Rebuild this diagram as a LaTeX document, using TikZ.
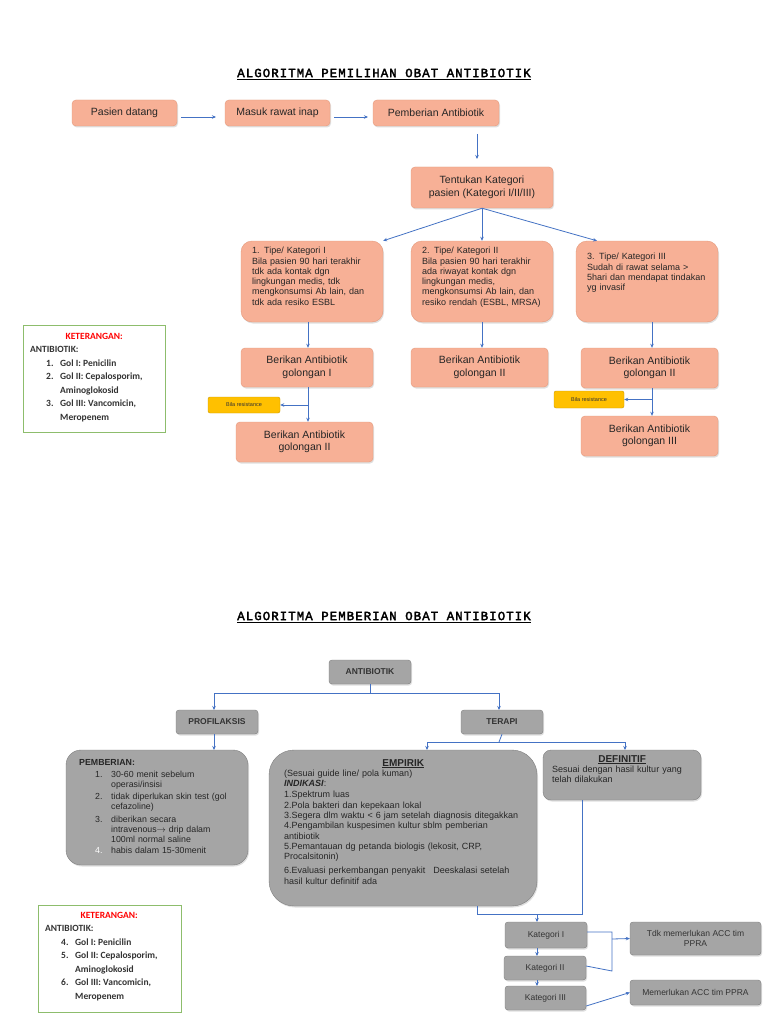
\documentclass[tikz,border=0pt]{standalone}
\usepackage{fontspec}
\setmainfont{Liberation Sans}
\newfontfamily\calfont{Carlito}
\newfontfamily\titlefont[LetterSpace=8,FakeBold=2.5]{Liberation Mono}
\usetikzlibrary{arrows.meta,shadows}
\definecolor{ofill}{HTML}{F7B096}
\definecolor{oline}{HTML}{E59A7C}
\definecolor{gfill}{HTML}{A5A5A5}
\definecolor{gline}{HTML}{7F7F7F}
\definecolor{arr}{HTML}{4472C4}
\definecolor{ylw}{HTML}{FFC000}
\definecolor{kgreen}{HTML}{70AD47}
\begin{document}
\begin{tikzpicture}[x=1pt,y=-1pt,
  shd/.style={drop shadow={opacity=0.25,shadow xshift=1pt,shadow yshift=-1.5pt}},
  obox/.style={shd,draw=oline,fill=ofill,rounded corners=4pt,inner sep=1pt,align=center,font=\fontsize{10.5}{12.5}\selectfont,text=black!85},
  gbox/.style={shd,draw=gline,fill=gfill,rounded corners=3pt,inner sep=1pt,align=center,font=\fontsize{8.5}{10}\selectfont\bfseries,text=black!80},
  ybox/.style={draw=ylw!80!black,fill=ylw,rounded corners=2pt,inner sep=0pt,font=\fontsize{5.5}{6}\selectfont,text=black!80},
  kbox/.style={draw=kgreen!80,line width=0.8pt,fill=white,inner sep=0pt},
  txt/.style={inner sep=0pt,anchor=north west,align=left,text=black!85},
  ttl/.style={inner sep=0pt,font=\titlefont\fontsize{12.5}{14}\selectfont},
  ar/.style={draw=arr,line width=0.8pt,-{Stealth[length=4pt,width=3.5pt]}},
  ln/.style={draw=arr,line width=0.8pt}]
\useasboundingbox (0,0) rectangle (768,1024);
\fill[white] (0,0) rectangle (768,1024);

% ---------- Section 1 ----------
\node[ttl] (t1) at (384,73) {ALGORITMA PEMILIHAN OBAT ANTIBIOTIK};
\draw[line width=0.9pt] ([yshift=-2.5pt]t1.south west) -- ([yshift=-2.5pt]t1.south east);

\node[obox,minimum width=105,minimum height=26] (p1) at (124.5,113) {Pasien datang};
\node[obox,minimum width=105,minimum height=26] (p2) at (277.5,113) {Masuk rawat inap};
\node[obox,minimum width=126,minimum height=26] (p3) at (436,113) {Pemberian Antibiotik};
\coordinate (a1s) at (181,117); \coordinate (a1e) at (216,117);
\coordinate (a2s) at (334,117); \coordinate (a2e) at (368,117);
\draw[ar] (a1s) -- (a1e);
\draw[ar] (a2s) -- (a2e);
\coordinate (a3s) at (477,134); \coordinate (a3e) at (477,159);
\draw[ar] (a3s) -- (a3e);

\node[obox,minimum width=142,minimum height=41] (tk) at (482,187.5) {Tentukan Kategori\\pasien (Kategori I/II/III)};

\node[obox,rounded corners=11pt,minimum width=142,minimum height=81] (c1) at (312,281.5) {};
\node[obox,rounded corners=11pt,minimum width=142,minimum height=81] (c2) at (482,281.5) {};
\node[obox,rounded corners=11pt,minimum width=142,minimum height=81] (c3) at (647,281.5) {};
\node[txt,text width=135,font=\fontsize{9}{10.3}\selectfont] (c1t) at (252,247) {1. Tipe/ Kategori I\\Bila pasien 90 hari terakhir\\tdk ada kontak dgn\\lingkungan medis, tdk\\mengkonsumsi Ab lain, dan\\tdk ada resiko ESBL};
\node[txt,text width=135,font=\fontsize{9}{10.3}\selectfont] (c2t) at (422,247) {2. Tipe/ Kategori II\\Bila pasien 90 hari terakhir\\ada riwayat kontak dgn\\lingkungan medis,\\mengkonsumsi Ab lain, dan\\resiko rendah (ESBL, MRSA)};
\node[txt,text width=135,font=\fontsize{9}{10.3}\selectfont] (c3t) at (587,253) {3. Tipe/ Kategori III\\Sudah di rawat selama >\\5hari dan mendapat tindakan\\yg invasif};

\draw[ar] (tk.south) -- (c1.north east);
\draw[ar] (tk.south) -- (c2.north);
\draw[ar] (tk.south) -- ([xshift=-50]c3.north);

\node[obox,minimum width=132,minimum height=39] (b1) at (307,367.5) {Berikan Antibiotik\\golongan I};
\node[obox,minimum width=137,minimum height=39] (b2) at (479.5,367.5) {Berikan Antibiotik\\golongan II};
\node[obox,minimum width=137,minimum height=40] (b3) at (649.5,368) {Berikan Antibiotik\\golongan II};
\node[obox,minimum width=137,minimum height=40] (b4) at (304.5,442) {Berikan Antibiotik\\golongan II};
\node[obox,minimum width=137,minimum height=40] (b5) at (649.5,436) {Berikan Antibiotik\\golongan III};

\draw[ar] ([xshift=-4]c1.south) -- ([xshift=1]b1.north);
\draw[ar] (c2.south) -- ([xshift=2.5]b2.north);
\draw[ar] ([xshift=5]c3.south) -- ([xshift=2.5]b3.north);

\node[ybox,minimum width=72,minimum height=16] (y1) at (244,405) {Bila resistance};
\node[ybox,minimum width=70,minimum height=17] (y2) at (589,399.5) {Bila resistance};
\coordinate (j1) at (308,405);
\coordinate (j2) at (652,399.5);
\draw[ar] ([xshift=1]b1.south) -- ([xshift=3.5]b4.north);
\draw[ar] (j1) -- (y1.east);
\draw[ar] ([xshift=2.5]b3.south) -- ([xshift=2.5]b5.north);
\draw[ar] (j2) -- (y2.east);

\node[kbox,minimum width=142,minimum height=107] (k1) at (94,378.5) {};
\node[txt,font=\calfont\bfseries\fontsize{9.5}{13.5}\selectfont,text=black!80] (k1t) at (30,333) {%
\makebox[128pt]{\textcolor{red}{KETERANGAN:}}\\
ANTIBIOTIK:\\
\hspace*{16pt}\makebox[10pt][l]{1.}\hspace{4pt}Gol I: Penicilin\\
\hspace*{16pt}\makebox[10pt][l]{2.}\hspace{4pt}Gol II: Cepalosporim,\\
\hspace*{30pt}Aminoglokosid\\
\hspace*{16pt}\makebox[10pt][l]{3.}\hspace{4pt}Gol III: Vancomicin,\\
\hspace*{30pt}Meropenem};

% ---------- Section 2 ----------
\node[ttl] (t2) at (384,616) {ALGORITMA PEMBERIAN OBAT ANTIBIOTIK};
\draw[line width=0.9pt] ([yshift=-2.5pt]t2.south west) -- ([yshift=-2.5pt]t2.south east);

\node[gbox,minimum width=82,minimum height=24] (ab) at (370,672) {ANTIBIOTIK};
\node[gbox,minimum width=82,minimum height=24] (pf) at (217,722) {PROFILAKSIS};
\node[gbox,minimum width=82,minimum height=24] (tr) at (502,722) {TERAPI};
\coordinate (h1) at (370,693);
\coordinate (h1l) at (214,693);
\coordinate (h1r) at (499,693);
\draw[ln] (ab.south) -- (h1);
\draw[ar] (h1) -- (h1l) -- (214,710);
\draw[ar] (h1) -- (h1r) -- (499,710);

\node[gbox,rounded corners=15pt,minimum width=182,minimum height=115] (pb) at (157,807.5) {};
\draw[ar] (214,734) -- (214,750);
\node[txt,font=\fontsize{8.8}{10.3}\selectfont,text width=170] (pbt) at (79,759) {%
\textbf{PEMBERIAN:}\\[1.5pt]
\hspace*{16pt}\makebox[16pt][l]{1.}\parbox[t]{130pt}{30-60 menit sebelum\\operasi/insisi}\\[3pt]
\hspace*{16pt}\makebox[16pt][l]{2.}\parbox[t]{130pt}{tidak diperlukan skin test (gol\\cefazoline)}\\[3pt]
\hspace*{16pt}\makebox[16pt][l]{3.}\parbox[t]{130pt}{diberikan secara\\intravenous$\rightarrow$ drip dalam\\100ml normal saline}\\[3pt]
\hspace*{16pt}\makebox[16pt][l]{\textcolor{white}{4.}}\parbox[t]{130pt}{habis dalam 15-30menit}};

\node[gbox,rounded corners=25pt,minimum width=268,minimum height=156] (em) at (403,828) {};
\node[gbox,rounded corners=8pt,minimum width=158,minimum height=50] (df) at (622,775) {};
\coordinate (h2) at (499,742);
\draw[ln] (tr.south) -- (h2);
\draw[ar] (h2) -- (427,742) -- (427,750);
\draw[ar] (h2) -- (625,742) -- (625,750);

\node[txt,font=\fontsize{9}{10.3}\selectfont,text width=260] (emt) at (284,759) {%
\makebox[238pt]{\fontsize{10}{11}\selectfont\bfseries\underline{EMPIRIK}}\\
(Sesuai guide line/ pola kuman)\\
\textbf{\textit{INDIKASI}}:\\[1pt]
1.Spektrum luas\\
2.Pola bakteri dan kepekaan lokal\\
3.Segera dlm waktu < 6 jam setelah diagnosis ditegakkan\\
4.Pengambilan kuspesimen kultur sblm pemberian\\antibiotik\\
5.Pemantauan dg petanda biologis (lekosit, CRP,\\Procalsitonin)\\[3pt]
6.Evaluasi perkembangan penyakit\hspace{8pt}Deeskalasi setelah\\[1.5pt]
hasil kultur definitif ada};
\node[txt,font=\fontsize{9}{10.3}\selectfont,text width=150] (dft) at (552,755) {%
\makebox[140pt]{\fontsize{10}{11}\selectfont\bfseries\underline{DEFINITIF}}\\
Sesuai dengan hasil kultur yang\\telah dilakukan};

\node[gbox,font=\fontsize{8.5}{10}\selectfont,minimum width=82,minimum height=26] (k1b) at (546,935) {Kategori I};
\node[gbox,font=\fontsize{8.5}{10}\selectfont,minimum width=82,minimum height=24] (k2b) at (545,968) {Kategori II};
\node[gbox,font=\fontsize{8.5}{10}\selectfont,minimum width=81,minimum height=24] (k3b) at (545.5,998) {Kategori III};
\node[gbox,font=\fontsize{8.5}{10}\selectfont,minimum width=131,minimum height=33] (tdk) at (695.5,938.5) {Tdk memerlukan ACC tim\\PPRA};
\node[gbox,font=\fontsize{8.5}{10}\selectfont,minimum width=131,minimum height=25] (mem) at (695.5,992.5) {Memerlukan ACC tim PPRA};

\coordinate (m1) at (477,914);
\coordinate (m2) at (582,914);
\draw[ln] (em.south) ++(74,0) -- (m1) -- (m2) -- (df.south west -| m2);
\draw[ar] (537,914) -- (537,922);
\draw[ar] (537,948) -- (537,956);
\draw[ar] (537,980) -- (537,986);
\draw[ln] (k1b.east) ++(0,-3) -- (612,932) -- (612,971) -- ([yshift=2]k2b.east);
\draw[ar] (612,939) -- (tdk.west);
\draw[ar] ([yshift=-8]k3b.east) -- (mem.west);

\node[kbox,minimum width=143,minimum height=107] (k2) at (109.5,958.5) {};
\node[txt,font=\calfont\bfseries\fontsize{9.5}{13.5}\selectfont,text=black!80] (k2t) at (45,912) {%
\makebox[128pt]{\textcolor{red}{KETERANGAN:}}\\
ANTIBIOTIK:\\
\hspace*{16pt}\makebox[10pt][l]{4.}\hspace{4pt}Gol I: Penicilin\\
\hspace*{16pt}\makebox[10pt][l]{5.}\hspace{4pt}Gol II: Cepalosporim,\\
\hspace*{30pt}Aminoglokosid\\
\hspace*{16pt}\makebox[10pt][l]{6.}\hspace{4pt}Gol III: Vancomicin,\\
\hspace*{30pt}Meropenem};
\end{tikzpicture}
\end{document}
